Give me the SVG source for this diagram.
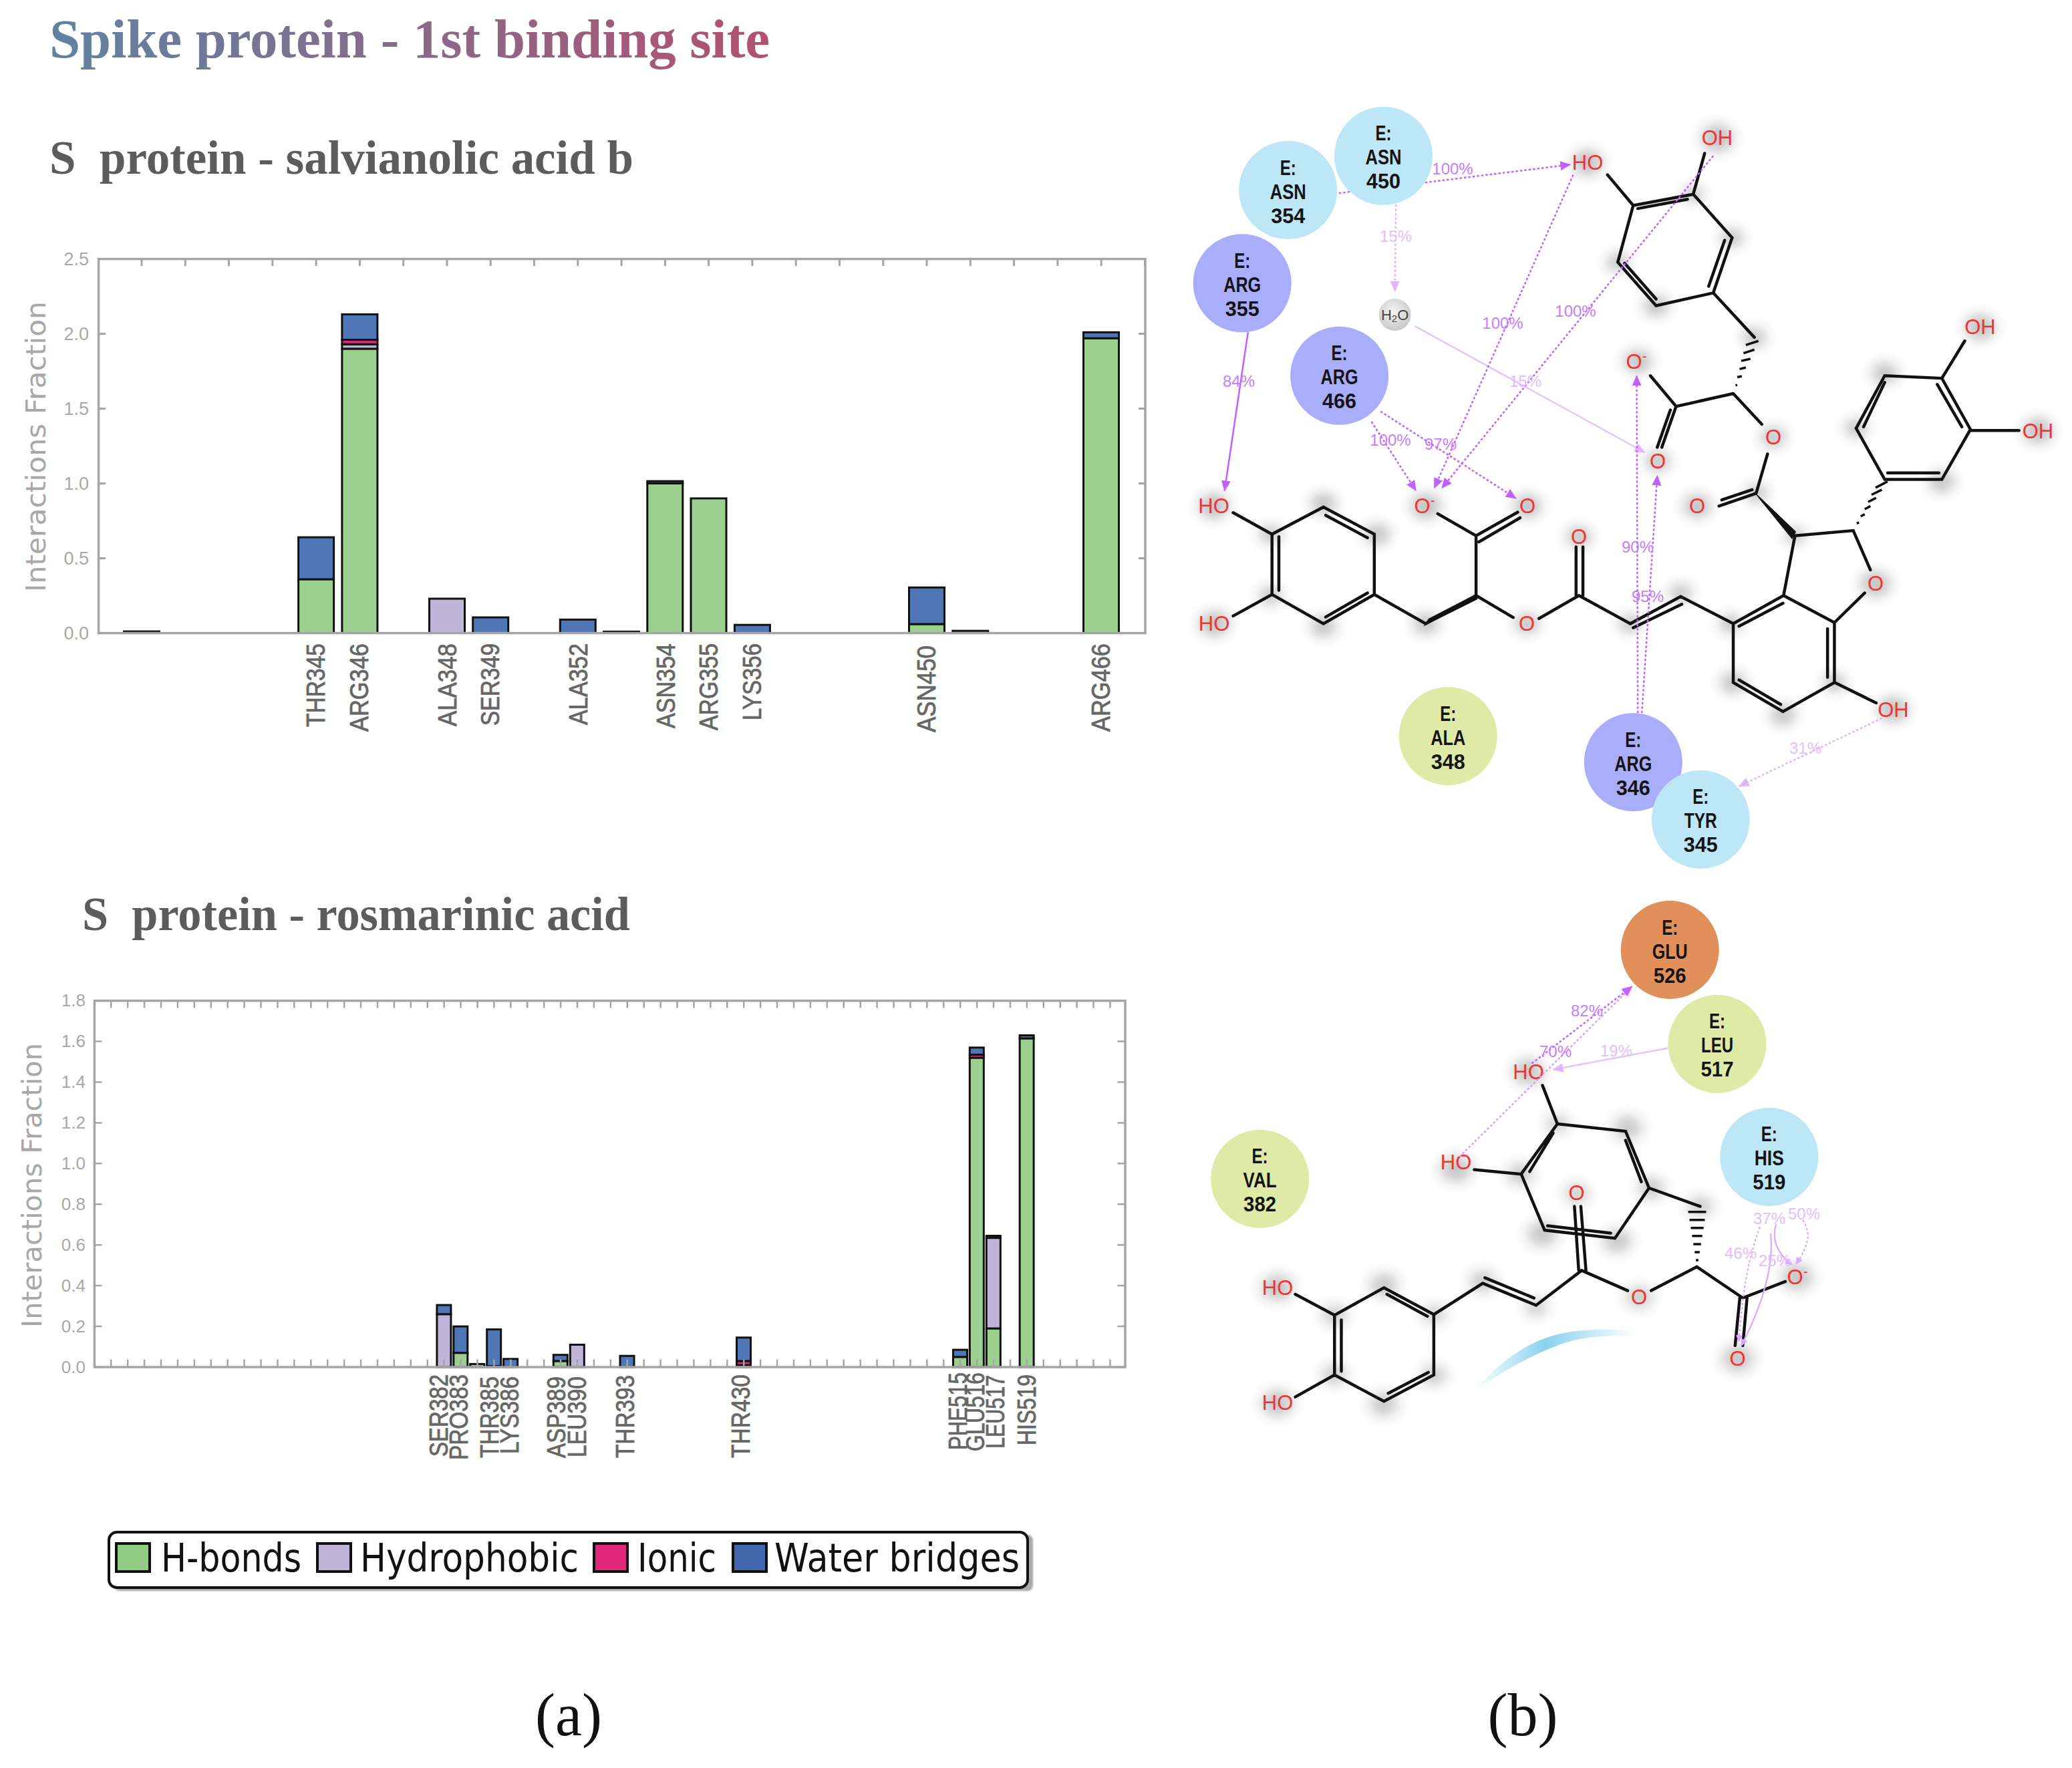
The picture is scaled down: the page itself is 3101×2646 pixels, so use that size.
<svg xmlns="http://www.w3.org/2000/svg" width="3101" height="2646" viewBox="0 0 3101 2646">
<style>
.ser{font-family:"Liberation Serif",serif;font-weight:700;white-space:pre}
.yl{font-family:"Liberation Sans",Arial,sans-serif;font-size:27px;fill:#a8a8a8;text-anchor:end}
.yt{font-family:"DejaVu Sans",sans-serif;font-size:40px;fill:#a8a8a8}
.xl{font-family:"Liberation Sans",Arial,sans-serif;font-size:38px;fill:#666;stroke:#666;stroke-width:.8;text-anchor:end}
.g{fill:#9bd08f;stroke:#111;stroke-width:3}
.h{fill:#bfb5d8;stroke:#111;stroke-width:3}
.i{fill:#e0287b;stroke:#111;stroke-width:3}
.w{fill:#4f76b6;stroke:#111;stroke-width:3}
.frame{fill:none;stroke:#a5a5a5;stroke-width:3.5}
.tk{fill:none;stroke:#a5a5a5}
.lg{font-family:"DejaVu Sans",sans-serif;font-size:58px;fill:#111}
.cap{font-family:"Liberation Serif",serif;font-size:90px;fill:#111;text-anchor:middle}
.bd{fill:none;stroke:#111;stroke-width:4.5;stroke-linecap:round;vector-effect:non-scaling-stroke}
.hs{fill:none;stroke:#111;stroke-width:3.5;stroke-linecap:butt;vector-effect:non-scaling-stroke}
.wd{fill:#111;stroke:none}
.at{font-family:"Liberation Sans",Arial,sans-serif;font-size:31px;fill:#ee3535;text-anchor:middle}
.nt{font-family:"Liberation Sans",Arial,sans-serif;font-size:31px;font-weight:700;fill:#141414;text-anchor:middle}
.blue{fill:#bde6f7}.purp{fill:#a9adfb}.lime{fill:#dfeaa6}.oran{fill:#e09058}
.pc{font-family:"Liberation Sans",Arial,sans-serif;font-size:24px;fill:#c77cff;text-anchor:middle}
.pl{font-family:"Liberation Sans",Arial,sans-serif;font-size:24px;fill:#e3bdff;text-anchor:middle}
.c1{fill:none;stroke:#c160ff;stroke-width:2.5;stroke-dasharray:3.5 3;marker-end:url(#ah)}
.c1s{fill:none;stroke:#c160ff;stroke-width:2.5;marker-end:url(#ah)}
.c2{fill:none;stroke:#e0b4ff;stroke-width:2.5;stroke-dasharray:3.5 3;marker-end:url(#al)}
.c2s{fill:none;stroke:#e6c4ff;stroke-width:2.5;marker-end:url(#al)}
.c3{fill:none;stroke:#dba8ff;stroke-width:2.2;marker-end:url(#as)}
.c3d{fill:none;stroke:#dba8ff;stroke-width:2.2;stroke-dasharray:3.5 3;marker-end:url(#as)}
</style>
<defs>
<linearGradient id="tg" gradientUnits="userSpaceOnUse" x1="74" y1="0" x2="1152" y2="0"><stop offset="0" stop-color="#5f83a3"/><stop offset="1" stop-color="#b25070"/></linearGradient>
<linearGradient id="arc" gradientUnits="userSpaceOnUse" x1="2206" y1="0" x2="2446" y2="0"><stop offset="0" stop-color="#8ad2f0" stop-opacity="0"/><stop offset=".45" stop-color="#8ad2f0"/><stop offset="1" stop-color="#8ad2f0" stop-opacity="0"/></linearGradient>
<radialGradient id="wat" cx=".45" cy=".4" r=".6"><stop offset="0" stop-color="#f5f5f5"/><stop offset="1" stop-color="#c9c9c9"/></radialGradient>
<filter id="glow" x="-5%" y="-5%" width="110%" height="110%"><feGaussianBlur stdDeviation="12"/></filter>
<filter id="glow2" x="-5%" y="-5%" width="110%" height="110%"><feGaussianBlur stdDeviation="17"/></filter>
<filter id="sh" x="-5%" y="-5%" width="110%" height="110%"><feGaussianBlur stdDeviation="1"/></filter>
<marker id="ah" markerUnits="userSpaceOnUse" markerWidth="18" markerHeight="14" refX="15" refY="7" orient="auto"><path d="M0 0L16 7L0 14Z" fill="#c160ff"/></marker>
<marker id="al" markerUnits="userSpaceOnUse" markerWidth="18" markerHeight="14" refX="15" refY="7" orient="auto"><path d="M0 0L16 7L0 14Z" fill="#e0b4ff"/></marker>
<marker id="as" markerUnits="userSpaceOnUse" markerWidth="12" markerHeight="10" refX="10" refY="5" orient="auto"><path d="M0 0L11 5L0 10Z" fill="#dba8ff"/></marker>
</defs>
<rect width="3101" height="2646" fill="#fff"/>
<text class="ser" x="74" y="86" font-size="82" fill="url(#tg)" textLength="1078" lengthAdjust="spacingAndGlyphs">Spike protein - 1st binding site</text>
<text class="ser" x="74" y="260" font-size="72" fill="#5c5c5c" textLength="874" lengthAdjust="spacingAndGlyphs">S  protein - salvianolic acid b</text>
<text class="ser" x="123" y="1392" font-size="72" fill="#5c5c5c" textLength="820" lengthAdjust="spacingAndGlyphs">S  protein - rosmarinic acid</text>

<g id="chart1">
<g id="chart1-bars">
<rect class="g" x="185.5" y="945" width="53" height="2.5"/>
<rect class="g" x="446.6" y="866.9" width="53" height="80.6"/><rect class="w" x="446.6" y="804.1" width="53" height="62.8"/>
<rect class="g" x="511.9" y="521.9" width="53" height="425.6"/><rect class="h" x="511.9" y="515.2" width="53" height="6.7"/><rect class="i" x="511.9" y="508.5" width="53" height="6.7"/><rect class="w" x="511.9" y="470.4" width="53" height="38.1"/>
<rect class="h" x="642.5" y="896" width="53" height="51.5"/>
<rect class="w" x="707.7" y="924" width="53" height="23.5"/>
<rect class="w" x="838.3" y="927.3" width="53" height="20.2"/>
<rect class="h" x="903.5" y="945.3" width="53" height="2.2"/>
<rect class="g" x="968.8" y="723.5" width="53" height="224"/><rect class="w" x="968.8" y="720.1" width="53" height="3.4"/>
<rect class="g" x="1034" y="745.9" width="53" height="201.6"/>
<rect class="w" x="1099.4" y="935.2" width="53" height="12.3"/>
<rect class="g" x="1360.5" y="934" width="53" height="13.5"/><rect class="w" x="1360.5" y="879.2" width="53" height="54.8"/>
<rect class="w" x="1425.8" y="944.1" width="53" height="3.4"/>
<rect class="g" x="1621.5" y="506.2" width="53" height="441.3"/><rect class="w" x="1621.5" y="497.3" width="53" height="8.9"/>
</g>
<rect class="frame" x="147.6" y="387.6" width="1566.4" height="559.9"/>
<path class="tk" stroke-width="10" stroke-dasharray="3 62.28" d="M210.5 393H1714"/>
<path class="tk" stroke-width="10" stroke-dasharray="3 109" d="M153 949V387"/>
<path class="tk" stroke-width="10" stroke-dasharray="3 109" d="M1709 949V387"/>
<g class="yl"><text x="133" y="957">0.0</text><text x="133" y="845">0.5</text><text x="133" y="733">1.0</text><text x="133" y="621">1.5</text><text x="133" y="509">2.0</text><text x="133" y="397">2.5</text></g>
<text class="yt" transform="translate(68 886) rotate(-90)" textLength="435" lengthAdjust="spacingAndGlyphs">Interactions Fraction</text>
<g>
<text class="xl" transform="translate(486 963) rotate(-90)" textLength="125" lengthAdjust="spacingAndGlyphs">THR345</text>
<text class="xl" transform="translate(551 963) rotate(-90)" textLength="132" lengthAdjust="spacingAndGlyphs">ARG346</text>
<text class="xl" transform="translate(683 963) rotate(-90)" textLength="124" lengthAdjust="spacingAndGlyphs">ALA348</text>
<text class="xl" transform="translate(747 963) rotate(-90)" textLength="123" lengthAdjust="spacingAndGlyphs">SER349</text>
<text class="xl" transform="translate(879 963) rotate(-90)" textLength="122" lengthAdjust="spacingAndGlyphs">ALA352</text>
<text class="xl" transform="translate(1010 963) rotate(-90)" textLength="127" lengthAdjust="spacingAndGlyphs">ASN354</text>
<text class="xl" transform="translate(1074 963) rotate(-90)" textLength="130" lengthAdjust="spacingAndGlyphs">ARG355</text>
<text class="xl" transform="translate(1139 963) rotate(-90)" textLength="115" lengthAdjust="spacingAndGlyphs">LYS356</text>
<text class="xl" transform="translate(1400 966) rotate(-90)" textLength="130" lengthAdjust="spacingAndGlyphs">ASN450</text>
<text class="xl" transform="translate(1661 963) rotate(-90)" textLength="132" lengthAdjust="spacingAndGlyphs">ARG466</text>
</g>
</g>

<g id="chart2">
<g id="chart2-bars">
<rect class="h" x="653.9" y="1966.8" width="21" height="79.2"/><rect class="w" x="653.9" y="1953.1" width="21" height="13.7"/>
<rect class="g" x="678.8" y="2024.7" width="21" height="21.3"/><rect class="w" x="678.8" y="1985.1" width="21" height="39.6"/>
<rect class="h" x="703.7" y="2041.4" width="21" height="4.6"/>
<rect class="g" x="728.7" y="2044.5" width="21" height="1.5"/><rect class="w" x="728.7" y="1989.6" width="21" height="54.9"/>
<rect class="w" x="753.6" y="2033.8" width="21" height="12.2"/>
<rect class="g" x="828.3" y="2036.9" width="21" height="9.1"/><rect class="w" x="828.3" y="2027.7" width="21" height="9.2"/>
<rect class="h" x="853.3" y="2012.5" width="21" height="33.5"/>
<rect class="w" x="928" y="2029.2" width="21" height="16.8"/>
<rect class="g" x="1102.5" y="2043" width="21" height="3"/><rect class="i" x="1102.5" y="2036.9" width="21" height="6.1"/><rect class="w" x="1102.5" y="2001.8" width="21" height="35.1"/>
<rect class="g" x="1426.5" y="2030.8" width="21" height="15.2"/><rect class="w" x="1426.5" y="2020.1" width="21" height="10.7"/>
<rect class="g" x="1451.3" y="1583" width="21" height="463"/><rect class="i" x="1451.3" y="1578.4" width="21" height="4.6"/><rect class="w" x="1451.3" y="1567.8" width="21" height="10.6"/>
<rect class="g" x="1476.3" y="1988.1" width="21" height="57.9"/><rect class="h" x="1476.3" y="1852.6" width="21" height="135.5"/><rect class="w" x="1476.3" y="1849.5" width="21" height="3.1"/>
<rect class="g" x="1526.1" y="1554" width="21" height="492"/><rect class="w" x="1526.1" y="1549.5" width="21" height="4.5"/>
</g>
<rect class="frame" x="141.4" y="1497.7" width="1542.6" height="548.3"/>
<path class="tk" stroke-width="11" stroke-dasharray="2.5 22.42" d="M165 1503H1684"/>
<path class="tk" stroke-width="11" stroke-dasharray="2.5 22.42" d="M165 2040H1684"/>
<path class="tk" stroke-width="11" stroke-dasharray="2.5 58.42" d="M147 2047.2V1497"/>
<path class="tk" stroke-width="11" stroke-dasharray="2.5 58.42" d="M1678 2047.2V1497"/>
<g class="yl" style="font-size:26px"><text x="128" y="2055">0.0</text><text x="128" y="1994">0.2</text><text x="128" y="1933">0.4</text><text x="128" y="1872">0.6</text><text x="128" y="1811">0.8</text><text x="128" y="1750">1.0</text><text x="128" y="1689">1.2</text><text x="128" y="1628">1.4</text><text x="128" y="1567">1.6</text><text x="128" y="1506">1.8</text></g>
<text class="yt" transform="translate(62 1987) rotate(-90)" textLength="426" lengthAdjust="spacingAndGlyphs">Interactions Fraction</text>
<g>
<text class="xl" transform="translate(670 2057) rotate(-90)" textLength="123" lengthAdjust="spacingAndGlyphs">SER382</text>
<text class="xl" transform="translate(700 2057) rotate(-90)" textLength="128" lengthAdjust="spacingAndGlyphs">PRO383</text>
<text class="xl" transform="translate(746 2060) rotate(-90)" textLength="122" lengthAdjust="spacingAndGlyphs">THR385</text>
<text class="xl" transform="translate(776 2060) rotate(-90)" textLength="116" lengthAdjust="spacingAndGlyphs">LYS386</text>
<text class="xl" transform="translate(846 2060) rotate(-90)" textLength="122" lengthAdjust="spacingAndGlyphs">ASP389</text>
<text class="xl" transform="translate(877 2060) rotate(-90)" textLength="121" lengthAdjust="spacingAndGlyphs">LEU390</text>
<text class="xl" transform="translate(949 2058) rotate(-90)" textLength="124" lengthAdjust="spacingAndGlyphs">THR393</text>
<text class="xl" transform="translate(1122 2057) rotate(-90)" textLength="125" lengthAdjust="spacingAndGlyphs">THR430</text>
<text class="xl" transform="translate(1447 2054) rotate(-90)" textLength="116" lengthAdjust="spacingAndGlyphs">PHE515</text>
<text class="xl" transform="translate(1473 2054) rotate(-90)" textLength="118" lengthAdjust="spacingAndGlyphs">GLU516</text>
<text class="xl" transform="translate(1503 2058) rotate(-90)" textLength="110" lengthAdjust="spacingAndGlyphs">LEU517</text>
<text class="xl" transform="translate(1550 2057) rotate(-90)" textLength="106" lengthAdjust="spacingAndGlyphs">HIS519</text>
</g>
</g>

<g id="legend">
<rect x="171" y="2297" width="1375" height="84" rx="8" fill="#aaa" filter="url(#sh)"/>
<rect x="163" y="2293" width="1375" height="83" rx="12" fill="#fff" stroke="#111" stroke-width="4"/>
<rect x="174" y="2310" width="50" height="42" fill="#91cb84" stroke="#111" stroke-width="4"/>
<text class="lg" x="241" y="2352" textLength="210" lengthAdjust="spacingAndGlyphs">H-bonds</text>
<rect x="475" y="2310" width="50" height="42" fill="#bfb5d8" stroke="#111" stroke-width="4"/>
<text class="lg" x="539" y="2352" textLength="327" lengthAdjust="spacingAndGlyphs">Hydrophobic</text>
<rect x="889" y="2310" width="50" height="42" fill="#e0287b" stroke="#111" stroke-width="4"/>
<text class="lg" x="954" y="2352" textLength="118" lengthAdjust="spacingAndGlyphs">Ionic</text>
<rect x="1097" y="2310" width="50" height="42" fill="#4368ad" stroke="#111" stroke-width="4"/>
<text class="lg" x="1159" y="2352" textLength="367" lengthAdjust="spacingAndGlyphs">Water bridges</text>
</g>
<text class="cap" x="851" y="2597">(a)</text>
<text class="cap" x="2279" y="2597">(b)</text>

<g id="mol1-halos" transform="translate(1760 130) scale(.8554 .7651)" filter="url(#glow)" fill="#c4c4c4">
<circle cx="258" cy="815" r="22"/><circle cx="352" cy="875" r="22"/><circle cx="258" cy="1055" r="22"/><circle cx="165" cy="875" r="19"/><circle cx="165" cy="995" r="19"/><circle cx="66" cy="820" r="26"/><circle cx="67" cy="1050" r="26"/><circle cx="437" cy="1050" r="22"/><circle cx="437" cy="820" r="26"/><circle cx="615" cy="820" r="24"/><circle cx="614" cy="1050" r="21"/><circle cx="705" cy="880" r="21"/><circle cx="795" cy="1050" r="19"/><circle cx="883" cy="990" r="19"/><circle cx="970" cy="1050" r="19"/><circle cx="975" cy="1165" r="22"/><circle cx="1062" cy="1228" r="22"/><circle cx="1152" cy="1165" r="19"/><circle cx="1255" cy="1218" r="26"/><circle cx="1224" cy="972" r="26"/><circle cx="1083" cy="878" r="17"/><circle cx="1015" cy="795" r="19"/><circle cx="912" cy="820" r="24"/><circle cx="1045" cy="685" r="21"/><circle cx="843" cy="732" r="21"/><circle cx="808" cy="537" r="24"/><circle cx="1012" cy="490" r="20"/><circle cx="840" cy="428" r="22"/><circle cx="773" cy="343" r="19"/><circle cx="973" cy="295" r="19"/><circle cx="905" cy="210" r="17"/><circle cx="720" cy="148" r="26"/><circle cx="947" cy="100" r="28"/><circle cx="1240" cy="560" r="22"/><circle cx="1190" cy="668" r="19"/><circle cx="1340" cy="772" r="22"/><circle cx="1407" cy="470" r="26"/><circle cx="1508" cy="673" r="26"/>
</g>
<g id="mol1-bonds" transform="translate(1760 130) scale(.8554 .7651)">
<path class="bd" d="M800 232L905 210L973 295L940 403L840 428L773 343Z M755 172L800 232 M925 130L905 210 M808 238L895 220 M960 300L932 390 M840 415L785 345 M940 403L1012 490 M975 600L875 625L830 565 M975 600L1025 660 M1035 718L1015 795 M950 820L1015 795 M955 808L1008 788 M875 625L850 705 M865 632L842 705 M1083 878L1185 868L1215 945 M1205 990L1152 1048L1063 995L1083 878 M1063 995L975 1050L975 1165L1062 1222L1152 1165L1152 1048 M1062 1010L985 1055 M985 1160L1058 1208 M1140 1060L1140 1155 M1152 1165L1225 1205 M975 1050L883 997L795 1050L705 995 M885 1012L800 1058 M700 995V900 M712 995V900 M705 995L635 1040 M590 1038L525 995L525 878L458 835 M525 878L598 832 M530 890L602 843 M525 995L437 1050L347 993L347 875L258 822L168 875L168 993L258 1050L347 993 M335 882L262 838 M180 880V985 M262 1037L335 990 M100 833L168 875 M100 1035L168 993 M1240 768L1340 768L1390 670L1340 570L1240 565L1190 668Z M1245 755L1335 755 M1375 665L1332 582 M1240 578L1203 665 M1340 570L1380 497 M1390 672L1475 672"/>
<path class="wd" d="M1010 790L1085 870L1078 885L1020 805Z M525 992L442 1040L433 1055L528 1002Z"/>
<path class="hs" d="M979 584L982 583 M982 568L990 566 M986 552L997 549 M989 536L1005 532 M993 521L1012 514 M997 505L1019 497 M1191 854L1195 852 M1198 840L1205 836 M1205 826L1215 820 M1211 812L1225 804 M1217 798L1235 788 M1224 784L1245 772"/>
</g>

<g id="mol2-halos" transform="translate(1760 1320) scale(.6378 .5485)" filter="url(#glow2)" fill="#c4c4c4">
<circle cx="1060" cy="670" r="32"/><circle cx="1115" cy="835" r="29"/><circle cx="1035" cy="980" r="32"/><circle cx="860" cy="960" r="34"/><circle cx="808" cy="797" r="29"/><circle cx="895" cy="660" r="24"/><circle cx="827" cy="518" r="36"/><circle cx="657" cy="783" r="36"/><circle cx="1230" cy="885" r="27"/><circle cx="720" cy="1090" r="29"/><circle cx="845" cy="1160" r="24"/><circle cx="605" cy="1180" r="24"/><circle cx="488" cy="1100" r="32"/><circle cx="372" cy="1182" r="27"/><circle cx="372" cy="1345" r="27"/><circle cx="488" cy="1425" r="32"/><circle cx="605" cy="1345" r="27"/><circle cx="238" cy="1107" r="36"/><circle cx="238" cy="1422" r="36"/><circle cx="1087" cy="1133" r="29"/><circle cx="1458" cy="1078" r="36"/><circle cx="1318" cy="1300" r="36"/><circle cx="940" cy="850" r="26"/>
</g>
<g id="mol2-bonds" transform="translate(1760 1320) scale(.6378 .5485)">
<path class="bd" d="M895 660L1055 680L1110 835L1030 972L865 950L810 797Z M885 685L830 790 M1055 705L1092 818 M872 938L1020 958 M860 555L895 660 M700 785L810 797 M1110 835L1230 885 M1222 1050L1115 1115 M1060 1115L952 1060 M945 1060L935 885 M962 1060L950 885 M952 1060L845 1155L720 1095L605 1180L605 1345L488 1417L372 1345L372 1182L488 1107L605 1180 M840 1135L725 1080 M388 1195V1335 M495 1125L590 1185 M498 1395L592 1338 M280 1125L372 1182 M280 1405L372 1345 M1222 1050L1330 1135L1430 1090 M1323 1135L1312 1265 M1340 1135L1330 1265"/>
<path class="hs" d="M1220 1032H1226 M1217 1010H1229 M1214 988H1232 M1211 966H1235 M1208 944H1238 M1205 922H1241 M1202 900H1244"/>
</g>
<path id="blue-arc" d="M2204 2084C2250 2030 2300 1998 2360 1992C2400 1988 2430 1990 2448 1992L2448 2000C2400 1998 2360 2000 2320 2018C2280 2034 2240 2058 2204 2084Z" fill="url(#arc)"/>

<g id="atoms">
<text class="at" x="2376" y="254">HO</text><text class="at" x="2570" y="217">OH</text><text class="at" x="2449" y="552">O<tspan dy="-12" font-size="20">-</tspan></text><text class="at" x="2481" y="701">O</text><text class="at" x="2654" y="665">O</text><text class="at" x="2540" y="768">O</text><text class="at" x="2807" y="884">O</text><text class="at" x="2833.5" y="1073">OH</text><text class="at" x="2363" y="814">O</text><text class="at" x="2285" y="944">O</text><text class="at" x="2132" y="768">O<tspan dy="-12" font-size="20">-</tspan></text><text class="at" x="2286" y="768">O</text><text class="at" x="1816.5" y="768">HO</text><text class="at" x="1817" y="944">HO</text><text class="at" x="2963.5" y="500">OH</text><text class="at" x="3050" y="655.5">OH</text>
<text class="at" x="2287.5" y="1615">HO</text><text class="at" x="2179" y="1750">HO</text><text class="at" x="2359.5" y="1796">O</text><text class="at" x="2453" y="1952">O</text><text class="at" x="2690" y="1922">O<tspan dy="-12" font-size="20">-</tspan></text><text class="at" x="2600.5" y="2044">O</text><text class="at" x="1912" y="1938">HO</text><text class="at" x="1912" y="2110">HO</text>
</g>

<g id="connectors">
<path class="c1" d="M2003.8 289.1L2350.2 246.3"/>
<path class="c2" d="M2089.3 306L2087.6 436"/>
<path class="c2s" d="M2117.6 488.1L2461.4 677"/>
<path class="c1s" d="M1867.8 497.2L1832.7 734.4"/>
<path class="c1" d="M2052.5 631.1L2119.3 734.4"/>
<path class="c1" d="M2066.2 615.8L2269 745.9"/>
<path class="c1" d="M2354.5 261.6L2146.6 730.6"/>
<path class="c1" d="M2564.1 233.3L2157.8 730.6"/>
<path class="c1" d="M2451.2 1067.2L2449.5 562.3"/>
<path class="c1" d="M2457.2 1067.2L2480.3 711.5"/>
<path class="c2" d="M2816.4 1074.9L2602.6 1176.7"/>
<path class="c2" style="stroke:#d9a0ff" d="M2184.1 1731.4L2442.5 1476.3"/>
<path class="c1" d="M2292.6 1591.5L2442.5 1476.3"/>
<path class="c2s" d="M2496.7 1568.5L2324.5 1600.8"/>
<path class="c3d" d="M2698 1826C2714 1850 2702 1870 2688 1892"/>
<path class="c3" d="M2658 1832C2650 1860 2665 1880 2682 1893"/>
<path class="c3" d="M2650 1846C2655 1890 2640 1950 2606 2014"/>
<path class="c3d" d="M2634 1836C2610 1900 2607 1960 2602 2008"/>
</g>
<g id="connector-labels">
<text class="pc" x="2174" y="261">100%</text><text class="pl" x="2089" y="362">15%</text><text class="pl" x="2283" y="579">15%</text><text class="pc" x="1854" y="579">84%</text><text class="pc" x="2081" y="667">100%</text><text class="pc" x="2156" y="673">97%</text><text class="pc" x="2249" y="492">100%</text><text class="pc" x="2358" y="474">100%</text><text class="pc" x="2451" y="827">90%</text><text class="pc" x="2466" y="901">95%</text><text class="pl" x="2702" y="1128">31%</text>
<text class="pc" x="2375" y="1521">82%</text><text class="pc" x="2328" y="1582">70%</text><text class="pl" x="2419" y="1581">19%</text><text class="pl" x="2700" y="1825">50%</text><text class="pl" x="2648" y="1832">37%</text><text class="pl" x="2656" y="1895">25%</text><text class="pl" x="2605" y="1884">46%</text>
</g>

<g id="H2O"><circle cx="2087.6" cy="471" r="24" fill="url(#wat)"/><text x="2087.6" y="479" font-family="'Liberation Sans',Arial,sans-serif" font-size="22" fill="#444" text-anchor="middle">H<tspan font-size="15" dy="3">2</tspan><tspan dy="-3">O</tspan></text></g>
<g id="ASN354"><circle class="blue" cx="1927.7" cy="284.5" r="73.5"/><text class="nt" x="1927.7" y="261.5" textLength="24" lengthAdjust="spacingAndGlyphs">E:</text><text class="nt" x="1927.7" y="297.5" textLength="54" lengthAdjust="spacingAndGlyphs">ASN</text><text class="nt" x="1927.7" y="333.5" textLength="51" lengthAdjust="spacingAndGlyphs">354</text></g>
<g id="ASN450"><circle class="blue" cx="2070.5" cy="233.3" r="73.5"/><text class="nt" x="2070.5" y="210.3" textLength="24" lengthAdjust="spacingAndGlyphs">E:</text><text class="nt" x="2070.5" y="246.3" textLength="54" lengthAdjust="spacingAndGlyphs">ASN</text><text class="nt" x="2070.5" y="282.3" textLength="51" lengthAdjust="spacingAndGlyphs">450</text></g>
<g id="ARG355"><circle class="purp" cx="1859.2" cy="423.8" r="73.5"/><text class="nt" x="1859.2" y="400.8" textLength="24" lengthAdjust="spacingAndGlyphs">E:</text><text class="nt" x="1859.2" y="436.8" textLength="56" lengthAdjust="spacingAndGlyphs">ARG</text><text class="nt" x="1859.2" y="472.8" textLength="51" lengthAdjust="spacingAndGlyphs">355</text></g>
<g id="ARG466"><circle class="purp" cx="2004.6" cy="562.3" r="73.5"/><text class="nt" x="2004.6" y="539.3" textLength="24" lengthAdjust="spacingAndGlyphs">E:</text><text class="nt" x="2004.6" y="575.3" textLength="56" lengthAdjust="spacingAndGlyphs">ARG</text><text class="nt" x="2004.6" y="611.3" textLength="51" lengthAdjust="spacingAndGlyphs">466</text></g>
<g id="ALA348"><circle class="lime" cx="2167.2" cy="1101.7" r="73.5"/><text class="nt" x="2167.2" y="1078.7" textLength="24" lengthAdjust="spacingAndGlyphs">E:</text><text class="nt" x="2167.2" y="1114.7" textLength="52" lengthAdjust="spacingAndGlyphs">ALA</text><text class="nt" x="2167.2" y="1150.7" textLength="51" lengthAdjust="spacingAndGlyphs">348</text></g>
<g id="ARG346"><circle class="purp" cx="2444.3" cy="1140.7" r="73.5"/><text class="nt" x="2444.3" y="1117.7" textLength="24" lengthAdjust="spacingAndGlyphs">E:</text><text class="nt" x="2444.3" y="1153.7" textLength="56" lengthAdjust="spacingAndGlyphs">ARG</text><text class="nt" x="2444.3" y="1189.7" textLength="51" lengthAdjust="spacingAndGlyphs">346</text></g>
<g id="TYR345"><circle class="blue" cx="2545.3" cy="1226.4" r="73.5"/><text class="nt" x="2545.3" y="1203.4" textLength="24" lengthAdjust="spacingAndGlyphs">E:</text><text class="nt" x="2545.3" y="1239.4" textLength="49" lengthAdjust="spacingAndGlyphs">TYR</text><text class="nt" x="2545.3" y="1275.4" textLength="51" lengthAdjust="spacingAndGlyphs">345</text></g>
<g id="GLU526"><circle class="oran" cx="2499.2" cy="1421.5" r="73.5"/><text class="nt" x="2499.2" y="1398.5" textLength="24" lengthAdjust="spacingAndGlyphs">E:</text><text class="nt" x="2499.2" y="1434.5" textLength="53" lengthAdjust="spacingAndGlyphs">GLU</text><text class="nt" x="2499.2" y="1470.5" textLength="49" lengthAdjust="spacingAndGlyphs">526</text></g>
<g id="LEU517"><circle class="lime" cx="2570" cy="1562.4" r="73.5"/><text class="nt" x="2570" y="1539.4" textLength="24" lengthAdjust="spacingAndGlyphs">E:</text><text class="nt" x="2570" y="1575.4" textLength="48" lengthAdjust="spacingAndGlyphs">LEU</text><text class="nt" x="2570" y="1611.4" textLength="49" lengthAdjust="spacingAndGlyphs">517</text></g>
<g id="HIS519"><circle class="blue" cx="2647.8" cy="1731.4" r="73.5"/><text class="nt" x="2647.8" y="1708.4" textLength="24" lengthAdjust="spacingAndGlyphs">E:</text><text class="nt" x="2647.8" y="1744.4" textLength="44" lengthAdjust="spacingAndGlyphs">HIS</text><text class="nt" x="2647.8" y="1780.4" textLength="49" lengthAdjust="spacingAndGlyphs">519</text></g>
<g id="VAL382"><circle class="lime" cx="1885.6" cy="1764.3" r="73.5"/><text class="nt" x="1885.6" y="1741.3" textLength="24" lengthAdjust="spacingAndGlyphs">E:</text><text class="nt" x="1885.6" y="1777.3" textLength="50" lengthAdjust="spacingAndGlyphs">VAL</text><text class="nt" x="1885.6" y="1813.3" textLength="49" lengthAdjust="spacingAndGlyphs">382</text></g>
</svg>
